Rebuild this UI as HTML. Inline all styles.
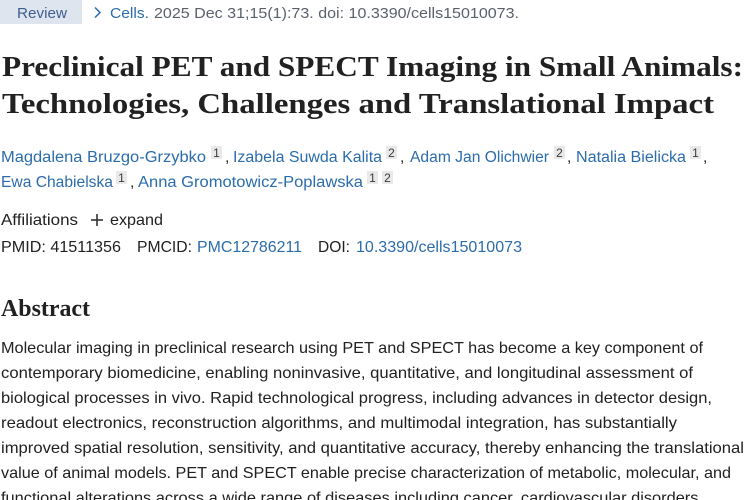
<!DOCTYPE html>
<html>
<head>
<meta charset="utf-8">
<style>
  html, body { margin: 0; padding: 0; background: #ffffff; }
  body { width: 750px; height: 500px; overflow: hidden; }
  svg { display: block; }
  .sans { font-family: "Liberation Sans", "DejaVu Sans", sans-serif; }
  .serif { font-family: "Liberation Serif", "DejaVu Serif", serif; font-weight: bold; }
  .body { font-size: 16px; fill: #212121; }
  .auth { font-size: 15.5px; fill: #2b6cab; }
  .dark { fill: #212121; }
  .blue { fill: #2b6cab; }
  .gray { fill: #5b616b; }
  .sup { font-size: 12px; fill: #3a3a3a; }
</style>
</head>
<body>
<svg width="750" height="500" viewBox="0 0 750 500" xmlns="http://www.w3.org/2000/svg">
  <rect x="0" y="0" width="750" height="500" fill="#ffffff"/>

  <!-- Header -->
  <rect x="0" y="0" width="82" height="24" fill="#dfe5ef"/>
  <text class="sans" x="17" y="18" font-size="15" fill="#3e5e8e" textLength="50" lengthAdjust="spacingAndGlyphs">Review</text>
  <polyline points="95,7.5 100,12.5 95,17.5" fill="none" stroke="#2b6cab" stroke-width="1.5"/>
  <text class="sans blue" x="110" y="18" font-size="15" textLength="39" lengthAdjust="spacingAndGlyphs">Cells.</text>
  <text class="sans gray" x="154" y="18" font-size="15" textLength="365" lengthAdjust="spacingAndGlyphs">2025 Dec 31;15(1):73. doi: 10.3390/cells15010073.</text>

  <!-- Title -->
  <text class="serif" x="2" y="76" font-size="28" fill="#212121" textLength="741" lengthAdjust="spacingAndGlyphs">Preclinical PET and SPECT Imaging in Small Animals:</text>
  <text class="serif" x="2" y="113" font-size="28" fill="#212121" textLength="712" lengthAdjust="spacingAndGlyphs">Technologies, Challenges and Translational Impact</text>

  <!-- Authors line 1 -->
  <text class="sans auth" x="1" y="162" textLength="205" lengthAdjust="spacingAndGlyphs">Magdalena Bruzgo-Grzybko</text>
  <rect x="211" y="146" width="11" height="13" fill="#e9e9e9"/>
  <text class="sans sup" x="216.5" y="157" text-anchor="middle">1</text>
  <text class="sans auth dark" x="225" y="162">,</text>
  <text class="sans auth" x="233" y="162" textLength="149" lengthAdjust="spacingAndGlyphs">Izabela Suwda Kalita</text>
  <rect x="386" y="146" width="11" height="13" fill="#e9e9e9"/>
  <text class="sans sup" x="391.5" y="157" text-anchor="middle">2</text>
  <text class="sans auth dark" x="400" y="162">,</text>
  <text class="sans auth" x="410" y="162" textLength="139" lengthAdjust="spacingAndGlyphs">Adam Jan Olichwier</text>
  <rect x="554" y="146" width="11" height="13" fill="#e9e9e9"/>
  <text class="sans sup" x="559.5" y="157" text-anchor="middle">2</text>
  <text class="sans auth dark" x="567" y="162">,</text>
  <text class="sans auth" x="576" y="162" textLength="110" lengthAdjust="spacingAndGlyphs">Natalia Bielicka</text>
  <rect x="690" y="146" width="11" height="13" fill="#e9e9e9"/>
  <text class="sans sup" x="695.5" y="157" text-anchor="middle">1</text>
  <text class="sans auth dark" x="703" y="162">,</text>

  <!-- Authors line 2 -->
  <text class="sans auth" x="1" y="187" textLength="112" lengthAdjust="spacingAndGlyphs">Ewa Chabielska</text>
  <rect x="116" y="171" width="11" height="13" fill="#e9e9e9"/>
  <text class="sans sup" x="121.5" y="182" text-anchor="middle">1</text>
  <text class="sans auth dark" x="130" y="187">,</text>
  <text class="sans auth" x="138" y="187" textLength="225" lengthAdjust="spacingAndGlyphs">Anna Gromotowicz-Poplawska</text>
  <rect x="367" y="171" width="11" height="13" fill="#e9e9e9"/>
  <text class="sans sup" x="372.5" y="182" text-anchor="middle">1</text>
  <rect x="382" y="171" width="11" height="13" fill="#e9e9e9"/>
  <text class="sans sup" x="387.5" y="182" text-anchor="middle">2</text>

  <!-- Affiliations -->
  <text class="sans body" x="1" y="225" textLength="77" lengthAdjust="spacingAndGlyphs">Affiliations</text>
  <line x1="91" y1="220" x2="103" y2="220" stroke="#333" stroke-width="1.6"/>
  <line x1="97" y1="214" x2="97" y2="226" stroke="#333" stroke-width="1.6"/>
  <text class="sans body" x="110" y="225" textLength="53" lengthAdjust="spacingAndGlyphs">expand</text>

  <!-- IDs -->
  <text class="sans body" x="1" y="252" textLength="120" lengthAdjust="spacingAndGlyphs">PMID: 41511356</text>
  <text class="sans body" x="137" y="252" textLength="55" lengthAdjust="spacingAndGlyphs">PMCID:</text>
  <text class="sans blue" x="197" y="252" font-size="16" textLength="105" lengthAdjust="spacingAndGlyphs">PMC12786211</text>
  <text class="sans body" x="318" y="252" textLength="32" lengthAdjust="spacingAndGlyphs">DOI:</text>
  <text class="sans blue" x="356" y="252" font-size="16" textLength="166" lengthAdjust="spacingAndGlyphs">10.3390/cells15010073</text>

  <!-- Abstract heading -->
  <text class="serif" x="1" y="316" font-size="24" fill="#212121" textLength="89" lengthAdjust="spacingAndGlyphs">Abstract</text>

  <!-- Abstract body -->
  <text class="sans body" x="1" y="353" textLength="702" lengthAdjust="spacingAndGlyphs">Molecular imaging in preclinical research using PET and SPECT has become a key component of</text>
  <text class="sans body" x="1" y="378" textLength="692" lengthAdjust="spacingAndGlyphs">contemporary biomedicine, enabling noninvasive, quantitative, and longitudinal assessment of</text>
  <text class="sans body" x="1" y="403" textLength="711" lengthAdjust="spacingAndGlyphs">biological processes in vivo. Rapid technological progress, including advances in detector design,</text>
  <text class="sans body" x="1" y="428" textLength="676" lengthAdjust="spacingAndGlyphs">readout electronics, reconstruction algorithms, and multimodal integration, has substantially</text>
  <text class="sans body" x="1" y="453" textLength="743" lengthAdjust="spacingAndGlyphs">improved spatial resolution, sensitivity, and quantitative accuracy, thereby enhancing the translational</text>
  <text class="sans body" x="1" y="478" textLength="730" lengthAdjust="spacingAndGlyphs">value of animal models. PET and SPECT enable precise characterization of metabolic, molecular, and</text>
  <text class="sans body" x="1" y="503" textLength="702" lengthAdjust="spacingAndGlyphs">functional alterations across a wide range of diseases including cancer, cardiovascular disorders,</text>
</svg>
</body>
</html>
